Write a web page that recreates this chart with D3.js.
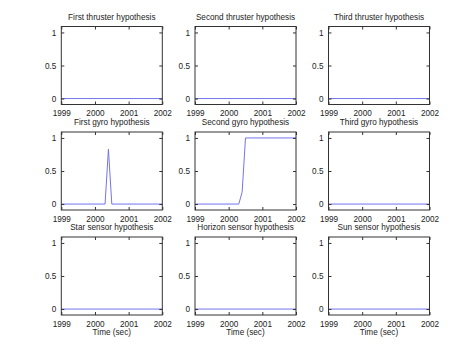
<!DOCTYPE html>
<html><head><meta charset="utf-8">
<script src="https://cdn.jsdelivr.net/npm/d3@7"></script>
<style>body{margin:0;background:#fff}svg{display:block}text{font-family:"Liberation Sans",Arial,sans-serif;fill:#222}</style>
</head><body>
<script>
const titles = ["First thruster hypothesis","Second thruster hypothesis","Third thruster hypothesis",
  "First gyro hypothesis","Second gyro hypothesis","Third gyro hypothesis",
  "Star sensor hypothesis","Horizon sensor hypothesis","Sun sensor hypothesis"];
const flat = [[1999,0],[2002,0]];
const firstGyro = [[1999,0],[2000.3,0],[2000.4,0.83],[2000.5,0],[2002,0]];
const secondGyro = [[1999,0],[2000.3,0],[2000.4,0.18],[2000.5,1],[2002,1]];
const series = [flat,flat,flat,firstGyro,secondGyro,flat,flat,flat,flat];
const xTicks = [1999,2000,2001,2002];
const yTicks = [0,0.5,1];
const xLabel = "Time (sec)";

const W=474,H=355;
const svg=d3.select("body").append("svg").attr("width",W).attr("height",H);
const lefts=[61.3,195,328.5], tops=[26.5,132,237], pw=101, ph=78;
const fs=8.2;
series.forEach((data,i)=>{
  const r=Math.floor(i/3), c=i%3;
  const g=svg.append("g").attr("transform",`translate(${lefts[c]},${tops[r]})`);
  const x=d3.scaleLinear().domain([1999,2002]).range([0,pw]);
  const y=d3.scaleLinear().domain([-0.09,1.09]).range([ph,0]);
  g.append("path").datum(data).attr("fill","none").attr("stroke","#7474ee").attr("stroke-width",1)
    .attr("d",d3.line().x(d=>x(d[0])).y(d=>y(d[1])));
  const tl=3;
  const ax=[d3.axisBottom(x).tickValues(xTicks).tickFormat(d3.format("d")),
            d3.axisLeft(y).tickValues(yTicks).tickFormat(d=>d===0.5?"0.5":d3.format("d")(d))];
  const gx=g.append("g").attr("transform",`translate(0,${ph})`).call(ax[0].tickSizeInner(-tl).tickSizeOuter(0).tickPadding(6));
  const gy=g.append("g").call(ax[1].tickSizeInner(-tl).tickSizeOuter(0).tickPadding(5));
  const gxt=g.append("g").call(d3.axisTop(x).tickValues(xTicks).tickSizeInner(-tl).tickSizeOuter(0).tickFormat(""));
  const gyr=g.append("g").attr("transform",`translate(${pw},0)`).call(d3.axisRight(y).tickValues(yTicks).tickSizeInner(-tl).tickSizeOuter(0).tickFormat(""));
  [gx,gy,gxt,gyr].forEach(a=>{a.select(".domain").remove();a.selectAll("line").attr("stroke","#333");
    a.selectAll("text").style("font-size",fs+"px").attr("fill","#222");a.attr("font-family",null);});
  g.append("rect").attr("width",pw).attr("height",ph).attr("fill","none").attr("stroke","#333").attr("stroke-width",1);
  g.append("text").attr("x",pw/2).attr("y",-7).attr("text-anchor","middle").style("font-size",fs+"px").text(titles[i]);
  if(r===2) g.append("text").attr("x",pw/2).attr("y",ph+19.5).attr("text-anchor","middle").style("font-size",fs+"px").text(xLabel);
});
</script>
</body></html>
